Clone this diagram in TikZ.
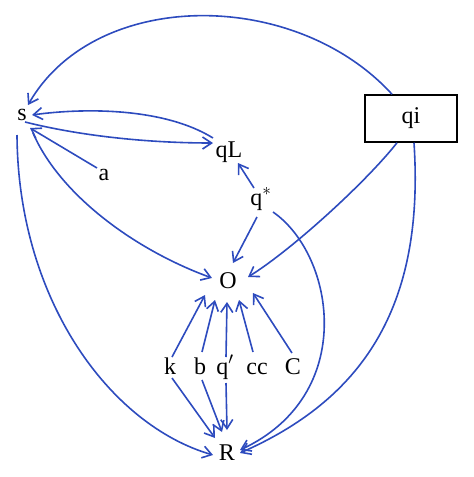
\documentclass[tikz,border=0pt]{standalone}
\usepackage{fontspec}
\setmainfont{Liberation Serif}
\usetikzlibrary{arrows.meta}
\definecolor{edgeblue}{RGB}{45,75,190}
\begin{document}
\begin{tikzpicture}[x=1pt,y=-1pt,
  lbl/.style={inner sep=0pt,text height=15pt,text depth=5pt,font=\fontsize{24}{28}\selectfont},
  conn/.style={draw=edgeblue,line width=1.6pt,-{Straight Barb[length=9pt,width=12pt]}}]
\useasboundingbox (0,0) rectangle (474,477);
% nodes
\node[lbl] (s)  at (22,115)  {s};
\node[lbl] (qL) at (229,152) {qL};
\node[lbl] (a)  at (104,175) {a};
\node[lbl] (qs) at (261,200) {q$^{\ast}$};
\node[lbl] (O)  at (228,283) {O};
\node[lbl] (k)  at (170,369) {k};
\node[lbl] (b)  at (200,369) {b};
\node[lbl] (qp) at (225,369) {q$'$};
\node[lbl] (cc) at (257,369) {cc};
\node[lbl] (C)  at (293,369) {C};
\node[lbl] (R)  at (227,455) {R};
\node[draw,line width=1.5pt,minimum width=92pt,minimum height=47pt,inner sep=0pt,
      font=\fontsize{24}{28}\selectfont] (qi) at (411,118.5) {qi};
% curved connectors
\draw[conn] ([xshift=-19pt]qi.north) .. controls (295,-12) and (95,-12) .. ([shift={(6,-10)}]s.center);
\draw[conn] ([shift={(-16,-14)}]qL.center) .. controls (163,107) and (82,108) .. ([shift={(10,0)}]s.center);
\draw[conn] ([shift={(3,7)}]s.center) .. controls (85,137) and (153,143) .. ([shift={(-16,-9)}]qL.center);
\draw[conn] ([shift={(-7,-7)}]a.center) -- ([shift={(8,13)}]s.center);
\draw[conn] ([shift={(11,18)}]s.center) .. controls (60,195) and (135,250) .. ([shift={(-16,-5)}]O.center);
\draw[conn] ([shift={(-5,20)}]s.center) .. controls (18,300) and (110,425) .. ([shift={(-14,0)}]R.center);
\draw[conn] ([shift={(-7,-12)}]qs.center) -- ([shift={(9,11)}]qL.center);
\draw[conn] ([shift={(-4,17)}]qs.center) -- ([shift={(5,-20)}]O.center);
\draw[conn] ([xshift=-14pt]qi.south) .. controls (367,181) and (293,249) .. ([shift={(20,-6)}]O.center);
\draw[conn] ([shift={(12,12)}]qs.center) .. controls (335,255) and (358,395) .. ([shift={(13,-5)}]R.center);
\draw[conn] ([xshift=3pt]qi.south) .. controls (425,310) and (360,400) .. ([shift={(13,-2)}]R.center);
% to O
\draw[conn] ([shift={(2,-12)}]k.center) -- ([shift={(-23,12)}]O.center);
\draw[conn] ([shift={(2,-17)}]b.center) -- ([shift={(-13,17)}]O.center);
\draw[conn] ([shift={(1,-12)}]qp.center) -- ([shift={(-1,19)}]O.center);
\draw[conn] ([shift={(-4,-17)}]cc.center) -- ([shift={(11,17)}]O.center);
\draw[conn] ([shift={(-1,-16)}]C.center) -- ([shift={(25,10)}]O.center);
% to R
\draw[conn] ([shift={(2,9)}]k.center) -- ([shift={(-12,-17)}]R.center);
\draw[conn] ([shift={(2,11)}]b.center) -- ([shift={(-5,-23)}]R.center);
\draw[conn] ([shift={(1,14)}]qp.center) -- ([shift={(0,-25)}]R.center);
\end{tikzpicture}
\end{document}
